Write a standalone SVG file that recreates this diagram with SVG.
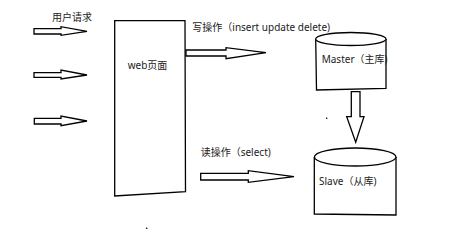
<svg xmlns="http://www.w3.org/2000/svg" width="474" height="241" viewBox="0 0 474 241">
<style>
.s{fill:#fff;stroke:#000;stroke-width:1.3;stroke-linejoin:miter}
.l{fill:none;stroke:#000;stroke-width:1.3}
.t{font-family:"Noto Sans","Noto Sans CJK SC",sans-serif;font-size:10px;fill:#222}
</style>
<rect width="474" height="241" fill="#fff"/>
<g id="connectors">
<polygon class="s" points="34,28.7 61,28.7 61,26.7 87,31.3 61,35.3 61,34 34,34"/>
<polygon class="s" points="34,72.7 61,72.7 61,70 87,75 61,79 61,77.3 34,77.3"/>
<polygon class="s" points="34.3,118.3 61,118.3 61,116 87,121 61,125.7 61,124 34.3,124"/>
<polygon class="s" points="186,50 226,50 226,47.7 266,52.7 226,58.7 226,56 186,56"/>
<polygon class="s" points="200.7,173.3 248.3,173.3 248.3,170.7 294,176.7 248.3,182.3 248.3,180 200.7,180"/>
<polygon class="s" points="351.3,91.7 360,91.7 360,116.7 364,116.7 355.7,142.3 346.7,116.7 351.3,116.7"/>
</g>
<g id="user">
<text class="t" x="52" y="21">用户请求</text>
</g>
<g id="web">
<polygon class="s" points="114.7,20.7 185,20.7 185.5,191.7 114.7,196"/>
<text class="t" x="127.7" y="69">web页面</text>
</g>
<g id="write-label">
<text class="t" x="192.3" y="31">写操作（insert update delete)</text>
</g>
<g id="read-label">
<text class="t" x="200.7" y="156">读操作（select)</text>
</g>
<g id="master">
<path class="s" d="M315.7,39 L316.5,90 L386,88.3 L386,39"/>
<ellipse class="s" cx="350.85" cy="39" rx="35.2" ry="6.5"/>
<text class="t" x="321.7" y="63">Master（主库)</text>
</g>
<g id="slave">
<path class="s" d="M314.3,157 L314.3,214 L396,215 L396,157"/>
<ellipse class="s" cx="355.2" cy="157" rx="40.8" ry="9"/>
<text class="t" x="319" y="185">Slave（从库)</text>
</g>
<circle cx="326.7" cy="118.3" r="0.8" fill="#000"/>
<circle cx="146.7" cy="228.3" r="0.8" fill="#000"/>
</svg>
